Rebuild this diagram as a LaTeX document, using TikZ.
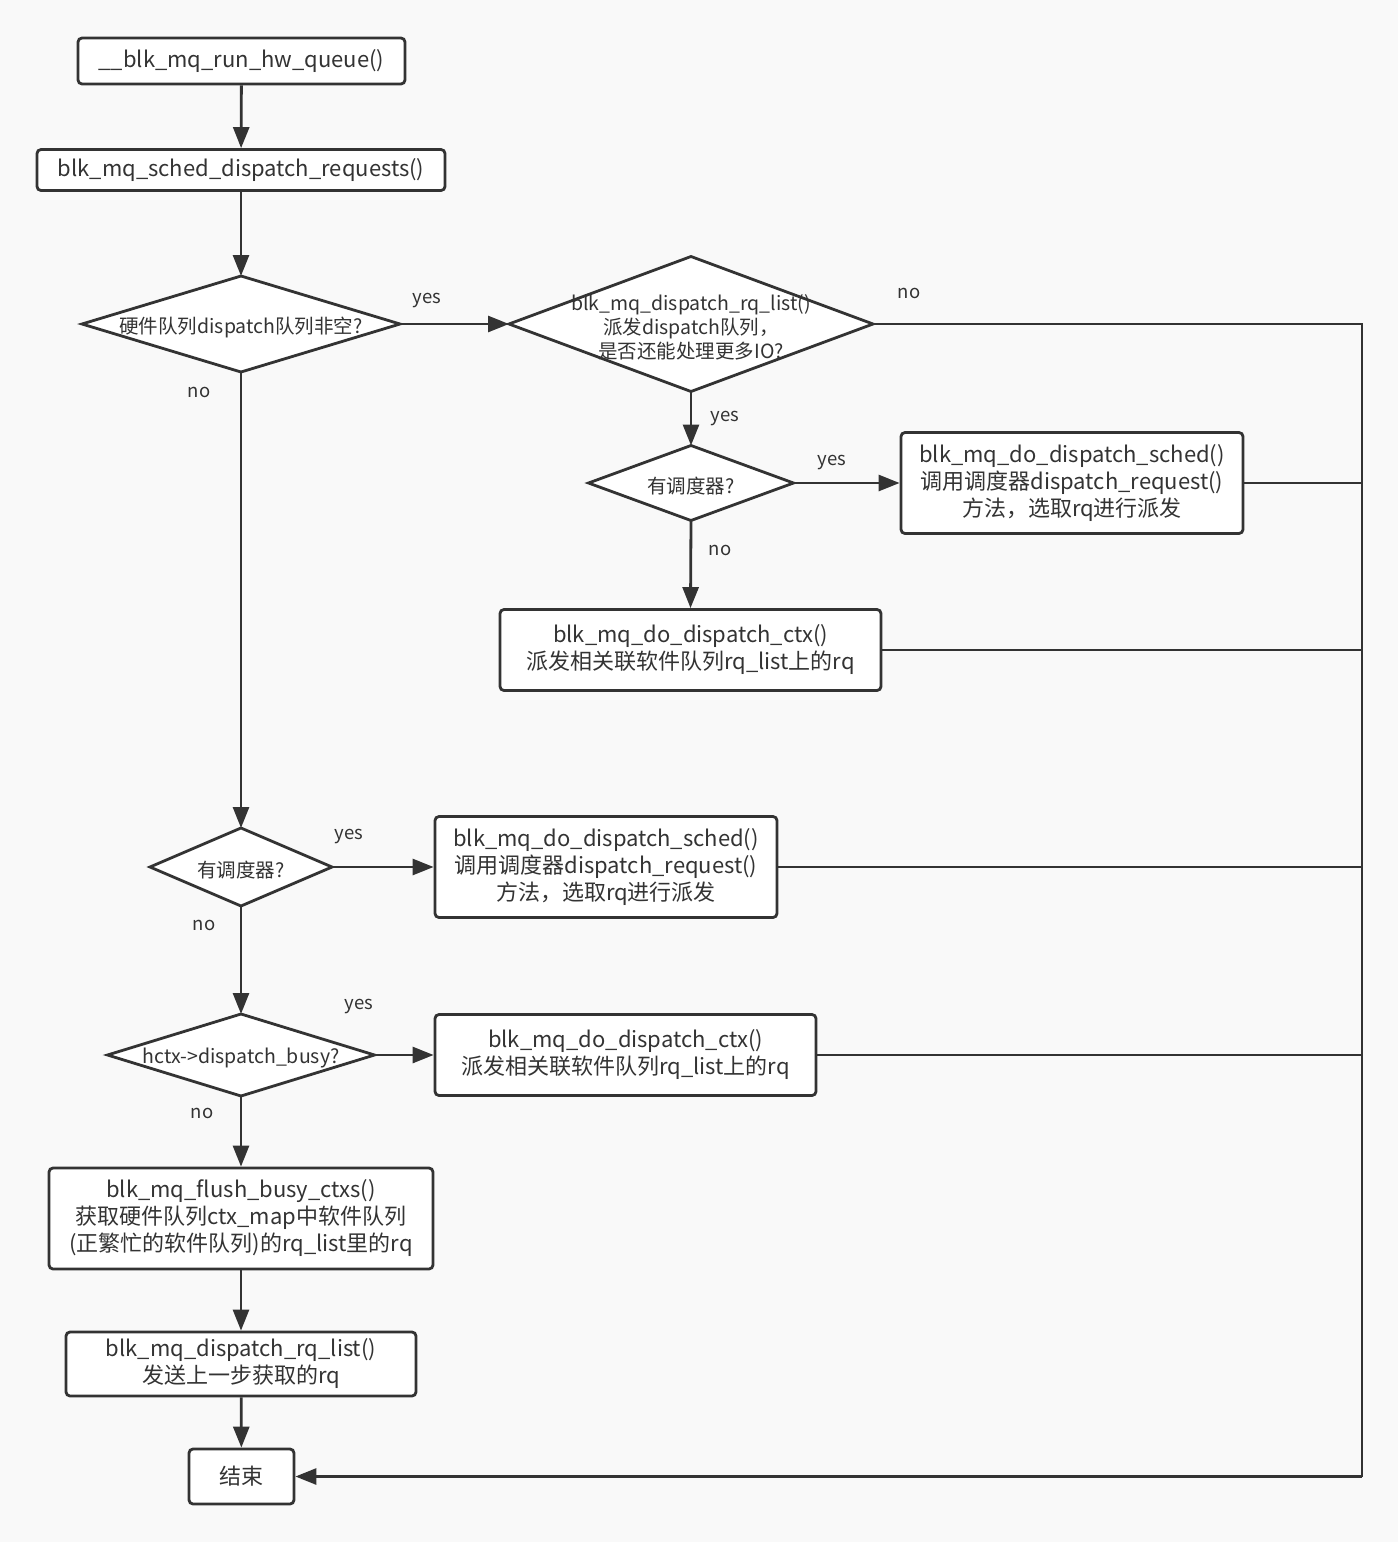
\documentclass[tikz,border=0pt]{standalone}
\usepackage{fontspec}
\setmainfont{Noto Sans CJK SC}
\usetikzlibrary{shapes.geometric,arrows.meta}
\definecolor{ink}{HTML}{333333}
\definecolor{bg}{HTML}{F9F9F9}
\begin{document}
\begin{tikzpicture}[x=1pt,y=-1pt,
  box/.style={draw=ink, line width=2.8pt, rounded corners=4pt, fill=white, text=ink,
    font=\fontsize{22}{27}\selectfont, align=center, inner sep=0pt},
  dia/.style={draw=ink, line width=2.8pt, shape=diamond, fill=white, inner sep=0pt, outer sep=0pt},
  dlab/.style={text=ink, font=\fontsize{19.5}{24}\selectfont, align=center, inner sep=0pt, yshift=-3.5pt},
  elab/.style={text=ink, font=\fontsize{18.5}{22}\selectfont, inner sep=0pt, yshift=-3pt},
  conn/.style={draw=ink, line width=2.8pt},
  arr/.style={conn, -{Triangle[length=21pt,width=16pt]}}]
\path[fill=bg] (0,0) rectangle (1398,1542);

% nodes
\node[box, minimum width=327pt, minimum height=46pt] (n1) at (241.5,61) {\_\_blk\_mq\_run\_hw\_queue()};
\node[box, minimum width=408pt, minimum height=41pt] (n2) at (241,170) {blk\_mq\_sched\_dispatch\_requests()};
\node[dia, minimum width=318pt, minimum height=96pt,
  label={[dlab]center:硬件队列dispatch队列非空?}] (d1) at (241,324) {};
\node[dia, minimum width=364pt, minimum height=135pt,
  label={[dlab]center:{blk\_mq\_dispatch\_rq\_list()\\派发dispatch队列，\\是否还能处理更多IO?}}] (d2) at (691,324) {};
\node[dia, minimum width=205pt, minimum height=75pt,
  label={[dlab]center:有调度器?}] (d3) at (691,483) {};
\node[box, minimum width=342pt, minimum height=101pt] (b3) at (1072,483)
  {blk\_mq\_do\_dispatch\_sched()\\调用调度器dispatch\_request()\\方法，选取rq进行派发};
\node[box, minimum width=381pt, minimum height=81pt] (b4) at (690.5,650)
  {blk\_mq\_do\_dispatch\_ctx()\\派发相关联软件队列rq\_list上的rq};
\node[dia, minimum width=182pt, minimum height=78pt,
  label={[dlab]center:有调度器?}] (d4) at (241,867) {};
\node[box, minimum width=342pt, minimum height=101pt] (b5) at (606,867)
  {blk\_mq\_do\_dispatch\_sched()\\调用调度器dispatch\_request()\\方法，选取rq进行派发};
\node[dia, minimum width=267pt, minimum height=82pt,
  label={[dlab]center:hctx->dispatch\_busy?}] (d5) at (241,1055) {};
\node[box, minimum width=381pt, minimum height=81pt] (b6) at (625.5,1055)
  {blk\_mq\_do\_dispatch\_ctx()\\派发相关联软件队列rq\_list上的rq};
\node[box, minimum width=384pt, minimum height=101pt] (b7) at (241,1218.5)
  {blk\_mq\_flush\_busy\_ctxs()\\获取硬件队列ctx\_map中软件队列\\(正繁忙的软件队列)的rq\_list里的rq};
\node[box, minimum width=350pt, minimum height=64pt] (b8) at (241,1364)
  {blk\_mq\_dispatch\_rq\_list()\\发送上一步获取的rq};
\node[box, minimum width=105pt, minimum height=55pt] (e) at (241.5,1476.5) {结束};

% right rail coordinates
\coordinate (r0) at (1362,324);
\coordinate (r1) at (1362,483);
\coordinate (r2) at (1362,650);
\coordinate (r3) at (1362,867);
\coordinate (r4) at (1362,1055);
\coordinate (r5) at (1362,1476.5);

% connectors
\draw[arr] (n1) -- (n2);
\draw[arr] (n2) -- (d1);
\draw[arr] (d1.east) -- (d2.west);
\draw[arr] (d1.south) -- (d4.north);
\draw[arr] (d2.south) -- (d3.north);
\draw[arr] (d3.east) -- (b3.west);
\draw[arr] (d3.south) -- (b4.north);
\draw[arr] (d4.east) -- (b5.west);
\draw[arr] (d4.south) -- (d5.north);
\draw[arr] (d5.east) -- (b6.west);
\draw[arr] (d5.south) -- (b7.north);
\draw[arr] (b7) -- (b8);
\draw[arr] (b8) -- (e);
\draw[conn, line join=miter] (d2.east) -- (r0) -- (r5);
\draw[arr] (r5) -- (e.east);
\draw[conn] (b3.east) -- (r1);
\draw[conn] (b4.east) -- (r2);
\draw[conn] (b5.east) -- (r3);
\draw[conn] (b6.east) -- (r4);

% edge labels
\node[elab] (l1) at (427,298) {yes};
\node[elab] (l2) at (199,389) {no};
\node[elab] (l3) at (909,290) {no};
\node[elab] (l4) at (725,416) {yes};
\node[elab] (l5) at (832,460) {yes};
\node[elab] (l6) at (720,547) {no};
\node[elab] (l7) at (349,834) {yes};
\node[elab] (l8) at (204,922) {no};
\node[elab] (l9) at (359,1003) {yes};
\node[elab] (l10) at (202,1110) {no};
\end{tikzpicture}
\end{document}
